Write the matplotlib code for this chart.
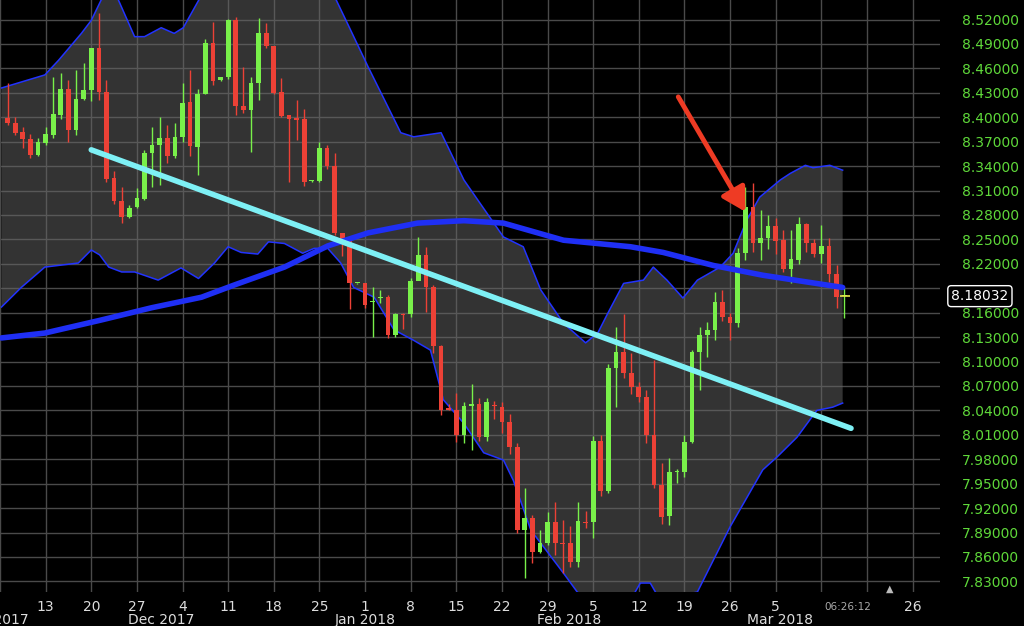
import numpy as np
import matplotlib
matplotlib.use("Agg")
import matplotlib.pyplot as plt
from matplotlib.patches import FancyArrowPatch

# daily candles, index 0 = first visible candle (6 candles per week)
opens = [8.399, 8.393, 8.382, 8.373, 8.354, 8.368, 8.378, 8.403, 8.435, 8.384,
         8.422, 8.433, 8.485, 8.431, 8.325, 8.297, 8.277, 8.290, 8.300, 8.356,
         8.366, 8.374, 8.352, 8.376, 8.419, 8.363, 8.429, 8.491, 8.446, 8.449,
         8.519, 8.414, 8.409, 8.442, 8.503, 8.487, 8.431, 8.403, 8.398, 8.398,
         8.322, 8.322, 8.362, 8.340, 8.258, 8.248, 8.196, 8.196, 8.173, 8.178,
         8.179, 8.132, 8.158, 8.158, 8.199, 8.231, 8.191, 8.119, 8.042, 8.040,
         8.010, 8.046, 8.048, 8.007, 8.046, 8.044, 8.026, 7.995, 7.893, 7.908,
         7.866, 7.877, 7.903, 7.877, 7.877, 7.854, 7.903, 7.903, 8.003, 7.941,
         8.092, 8.112, 8.086, 8.069, 8.057, 8.010, 7.949, 7.910, 7.964, 7.964,
         8.001, 8.112, 8.132, 8.139, 8.173, 8.155, 8.147, 8.233, 8.290, 8.246,
         8.252, 8.266, 8.249, 8.214, 8.225, 8.269, 8.246, 8.232, 8.242, 8.207,
         8.180]
closes = [8.393, 8.381, 8.373, 8.354, 8.370, 8.379, 8.404, 8.435, 8.384, 8.422,
          8.433, 8.485, 8.431, 8.324, 8.297, 8.277, 8.288, 8.301, 8.356, 8.366,
          8.374, 8.352, 8.376, 8.417, 8.365, 8.429, 8.491, 8.444, 8.449, 8.519,
          8.414, 8.409, 8.442, 8.503, 8.487, 8.430, 8.401, 8.398, 8.397, 8.320,
          8.323, 8.362, 8.340, 8.258, 8.248, 8.196, 8.197, 8.169, 8.174, 8.179,
          8.132, 8.158, 8.157, 8.199, 8.231, 8.191, 8.119, 8.040, 8.041, 8.010,
          8.045, 8.047, 8.007, 8.050, 8.045, 8.026, 7.995, 7.893, 7.908, 7.866,
          7.877, 7.903, 7.877, 7.876, 7.854, 7.904, 7.902, 8.003, 7.941, 8.092,
          8.112, 8.086, 8.069, 8.057, 8.010, 7.949, 7.909, 7.964, 7.965, 8.001,
          8.112, 8.132, 8.139, 8.173, 8.155, 8.147, 8.233, 8.290, 8.246, 8.252,
          8.266, 8.248, 8.214, 8.226, 8.269, 8.246, 8.232, 8.242, 8.207, 8.179,
          8.181]
highs = [8.442, 8.400, 8.388, 8.380, 8.375, 8.388, 8.449, 8.454, 8.446, 8.458,
         8.467, 8.485, 8.528, 8.446, 8.334, 8.314, 8.292, 8.313, 8.360, 8.388,
         8.400, 8.390, 8.393, 8.442, 8.458, 8.435, 8.496, 8.517, 8.450, 8.521,
         8.523, 8.462, 8.449, 8.522, 8.516, 8.487, 8.448, 8.403, 8.421, 8.410,
         8.323, 8.370, 8.366, 8.356, 8.258, 8.252, 8.196, 8.190, 8.191, 8.188,
         8.182, 8.160, 8.160, 8.203, 8.253, 8.241, 8.194, 8.120, 8.048, 8.061,
         8.050, 8.073, 8.055, 8.055, 8.052, 8.050, 8.036, 8.000, 7.945, 7.911,
         7.893, 7.915, 7.927, 7.905, 7.898, 7.927, 7.917, 8.008, 8.010, 8.097,
         8.142, 8.159, 8.110, 8.075, 8.065, 8.102, 7.976, 7.981, 7.968, 8.010,
         8.114, 8.142, 8.148, 8.185, 8.188, 8.160, 8.240, 8.314, 8.319, 8.286,
         8.280, 8.276, 8.262, 8.261, 8.277, 8.270, 8.250, 8.268, 8.252, 8.218,
         8.190]
lows = [8.390, 8.378, 8.362, 8.350, 8.352, 8.366, 8.374, 8.398, 8.370, 8.378,
        8.421, 8.420, 8.421, 8.320, 8.293, 8.270, 8.276, 8.288, 8.298, 8.314,
        8.317, 8.344, 8.350, 8.370, 8.352, 8.329, 8.428, 8.440, 8.444, 8.447,
        8.403, 8.405, 8.357, 8.421, 8.485, 8.428, 8.400, 8.320, 8.372, 8.316,
        8.321, 8.320, 8.336, 8.256, 8.230, 8.165, 8.195, 8.166, 8.130, 8.172,
        8.129, 8.130, 8.140, 8.155, 8.228, 8.161, 8.110, 8.034, 8.040, 8.001,
        8.000, 7.991, 8.002, 8.002, 8.030, 8.012, 7.987, 7.890, 7.834, 7.853,
        7.865, 7.875, 7.862, 7.840, 7.848, 7.848, 7.895, 7.883, 7.935, 7.938,
        8.044, 8.080, 8.060, 8.050, 8.000, 7.945, 7.900, 7.899, 7.951, 7.958,
        8.000, 8.065, 8.105, 8.126, 8.150, 8.126, 8.142, 8.225, 8.234, 8.225,
        8.238, 8.232, 8.210, 8.196, 8.220, 8.235, 8.228, 8.221, 8.198, 8.166,
        8.153]

# Bollinger bands and moving average, sampled (candle index, price)
upper_x = [-0.8, 4.9, 6.7, 9.7, 11.0, 12.3, 14.0, 16.7, 18.0, 20.2, 21.9, 23.1, 25.5,
           34.6, 42.9, 44.8, 47.4, 51.7, 53.4, 57.0, 60.0, 65.2, 67.8, 70.1, 73.1,
           76.0, 77.6, 78.9, 81.0, 83.6, 84.9, 86.7, 88.8, 90.7, 93.7, 95.4, 97.2,
           98.9, 101.6, 102.9, 104.9, 105.9, 108.1, 109.8]
upper_y = [8.436, 8.452, 8.470, 8.503, 8.519, 8.544, 8.556, 8.499, 8.499, 8.510, 8.503,
           8.510, 8.55, 8.57, 8.55, 8.513, 8.462, 8.381, 8.376, 8.381, 8.323, 8.253,
           8.241, 8.188, 8.147, 8.123, 8.135, 8.159, 8.196, 8.200, 8.216, 8.200,
           8.178, 8.200, 8.216, 8.233, 8.274, 8.302, 8.323, 8.331, 8.341, 8.338,
           8.341, 8.335]
lower_x = [-0.8, 1.8, 4.9, 9.3, 11.0, 12.1, 13.3, 15.0, 16.7, 19.8, 22.8, 25.1, 27.2,
           29.0, 30.7, 32.9, 34.3, 36.4, 38.8, 40.3, 42.1, 43.8, 45.5, 48.2, 50.8,
           53.4, 55.6, 57.3, 60.0, 62.6, 65.2, 66.5, 68.8, 73.1, 74.9, 78.0, 81.9,
           83.2, 84.5, 85.8, 90.7, 95.0, 99.3, 101.2, 103.8, 106.4, 108.5, 109.8]
lower_y = [8.167, 8.191, 8.216, 8.221, 8.237, 8.231, 8.216, 8.210, 8.210, 8.200, 8.215,
           8.202, 8.221, 8.241, 8.234, 8.232, 8.247, 8.245, 8.233, 8.239, 8.239,
           8.221, 8.191, 8.179, 8.139, 8.126, 8.114, 8.053, 8.024, 7.988, 7.979,
           7.954, 7.893, 7.840, 7.817, 7.795, 7.807, 7.828, 7.828, 7.807, 7.817,
           7.897, 7.967, 7.983, 8.007, 8.040, 8.044, 8.049]
ma_x = [-0.8, 4.9, 12.3, 18.9, 25.5, 29.8, 36.4, 42.1, 47.4, 53.9, 60.0, 65.2, 73.1,
        81.9, 86.2, 92.8, 99.3, 109.8]
ma_y = [8.129, 8.135, 8.151, 8.166, 8.179, 8.194, 8.216, 8.242, 8.258, 8.270, 8.273,
        8.270, 8.249, 8.241, 8.234, 8.218, 8.206, 8.191]
trend_x = [11.0, 110.9]
trend_y = [8.360, 8.018]

day_labels = ["13", "20", "27", "4", "11", "18", "25", "1", "8", "15", "22", "29",
              "5", "12", "19", "26", "5", "", "", "26"]
month_labels = ["Nov 2017", "Dec 2017", "Jan 2018", "Feb 2018", "Mar 2018"]
month_pos = [-1.6, 20.2, 47.0, 73.8, 101.6]
last_price = 8.18032

GREEN = "#79f04a"
RED = "#ec4136"
TXT = "#5fd83a"

fig = plt.figure(figsize=(10.24, 6.26), dpi=100, facecolor="black")
ax = fig.add_axes([0, 1 - 592 / 626, 940 / 1024, 592 / 626])
ax.set_facecolor("black")
ylo, yhi = 7.817, 8.544
ax.set_xlim(-0.79, 122.6)
ax.set_ylim(ylo, yhi)

# grid
yt = np.round(np.arange(7.83, 8.5201, 0.03), 2)
xt = [5 + 6 * k for k in range(-1, 20)]
for v in yt:
    ax.axhline(v, color="#4a4a4a", lw=1, zorder=0)
for v in xt:
    ax.axvline(v, color="#4a4a4a", lw=1, zorder=0)

# bands
ux = np.linspace(-0.8, 109.8, 400)
up = np.interp(ux, upper_x, upper_y)
lo = np.interp(ux, lower_x, lower_y)
ax.fill_between(ux, lo, up, color="#666666", alpha=0.5, lw=0, zorder=1)
ax.plot(upper_x, upper_y, color="#2233ff", lw=1.1, zorder=2)
ax.plot(lower_x, lower_y, color="#2233ff", lw=1.1, zorder=2)

# candles
for i, (o, c, h, l) in enumerate(zip(opens, closes, highs, lows)):
    col = GREEN if c >= o else RED
    ax.vlines(i, l, h, color=col, lw=1, zorder=3)
    bh = max(abs(c - o), 0.0015)
    ax.bar(i, bh, bottom=min(o, c), width=0.62, color=col, lw=0, zorder=3)
ax.hlines(closes[-1], len(opens) - 1.6, len(opens) - 0.2, color="#e8e84a", lw=1.2, zorder=4)

ax.plot(ma_x, ma_y, color="#1f2ff5", lw=4, solid_capstyle="round", zorder=5)
ax.plot(trend_x, trend_y, color="#7ef0f5", lw=4, solid_capstyle="round", zorder=5)

# arrow annotation
ax.add_patch(FancyArrowPatch((88.0, 8.428), (97.2, 8.281),
                             arrowstyle="-|>,head_length=14,head_width=8",
                             color="#ee3b24", lw=3.5, zorder=6))

# axes ticks
ax.yaxis.tick_right()
ax.set_yticks(yt)
ax.set_yticklabels(["" if abs(v - 8.19) < 1e-6 else f"{v:.5f}" for v in yt])
ax.tick_params(axis="y", length=0, pad=16, colors=TXT, labelsize=10)
ax.set_xticks(xt)
ax.set_xticklabels([""] + day_labels)
ax.tick_params(axis="x", length=0, pad=6, colors="#dddddd", labelsize=10)
for s in ax.spines.values():
    s.set_visible(False)

for m, p in zip(month_labels, month_pos):
    ax.text(p, -0.048, m, transform=ax.get_xaxis_transform(), ha="center", va="center",
            color="#dddddd", fontsize=10, clip_on=False)
ax.text(110.5, -0.025, "06:26:12", transform=ax.get_xaxis_transform(), ha="center",
        va="center", color="#aaaaaa", fontsize=7.5, clip_on=False)
ax.text(116.0, 0.005, "▲", transform=ax.get_xaxis_transform(), ha="center", va="center",
        color="#bbbbbb", fontsize=7, clip_on=False)

ax.text(1.012, last_price, f"{last_price:.5f}", transform=ax.get_yaxis_transform(),
        ha="left", va="center", color="white", fontsize=10, clip_on=False,
        bbox=dict(boxstyle="round,pad=0.25", fc="black", ec="white", lw=1))

fig.savefig("out.png", dpi=100, facecolor="black")
